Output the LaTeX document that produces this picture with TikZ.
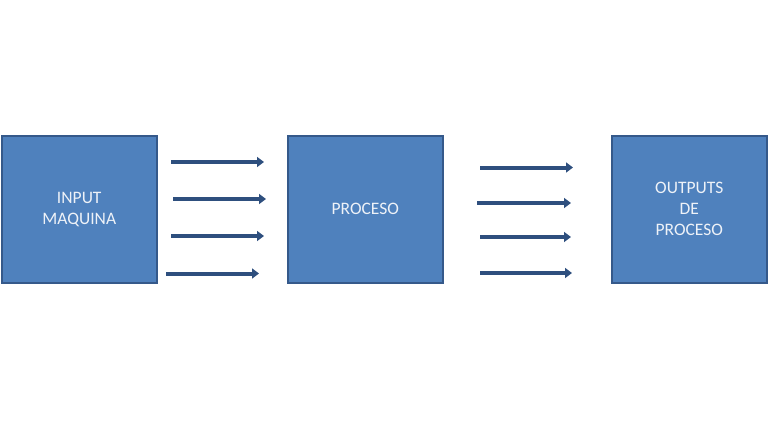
\documentclass[tikz,border=0pt]{standalone}
\usepackage{fontspec}
\setmainfont{Carlito}
\usetikzlibrary{arrows.meta}
\definecolor{boxfill}{HTML}{4F81BD}
\definecolor{boxline}{HTML}{35598A}
\definecolor{arrowcol}{HTML}{2E4F7E}
\definecolor{txtcol}{HTML}{EEF2F8}
\tikzset{
  blockbox/.style={draw=boxline, line width=1.5pt, fill=boxfill, minimum width=155pt, minimum height=147pt, inner sep=0pt, text=txtcol, align=center, font=\fontsize{17.5}{21}\selectfont, anchor=north west},
  flowarrow/.style={draw=arrowcol, line width=4pt, -{Triangle[length=7pt,width=10pt]}}
}
\begin{document}
\begin{tikzpicture}[x=1pt,y=-1pt]
\useasboundingbox[fill=white] (0,0) rectangle (768,439);
\node[blockbox] (input) at (1,135) {INPUT\\MAQUINA};
\node[blockbox] (proceso) at (287,135) {PROCESO};
\node[blockbox] (output) at (611,135) {OUTPUTS\\DE\\PROCESO};
% left arrows
\coordinate (a1s) at (171,162); \coordinate (a1e) at (264,162);
\coordinate (a2s) at (173,199); \coordinate (a2e) at (266,199);
\coordinate (a3s) at (171,236); \coordinate (a3e) at (264,236);
\coordinate (a4s) at (166,273.5); \coordinate (a4e) at (259,273.5);
% right arrows
\coordinate (b1s) at (480,167.5); \coordinate (b1e) at (573,167.5);
\coordinate (b2s) at (477,203); \coordinate (b2e) at (571,203);
\coordinate (b3s) at (480,237); \coordinate (b3e) at (571,237);
\coordinate (b4s) at (480,273); \coordinate (b4e) at (572,273);
\foreach \p in {a1,a2,a3,a4,b1,b2,b3,b4} \draw[flowarrow] (\p s) -- (\p e);
\end{tikzpicture}
\end{document}
